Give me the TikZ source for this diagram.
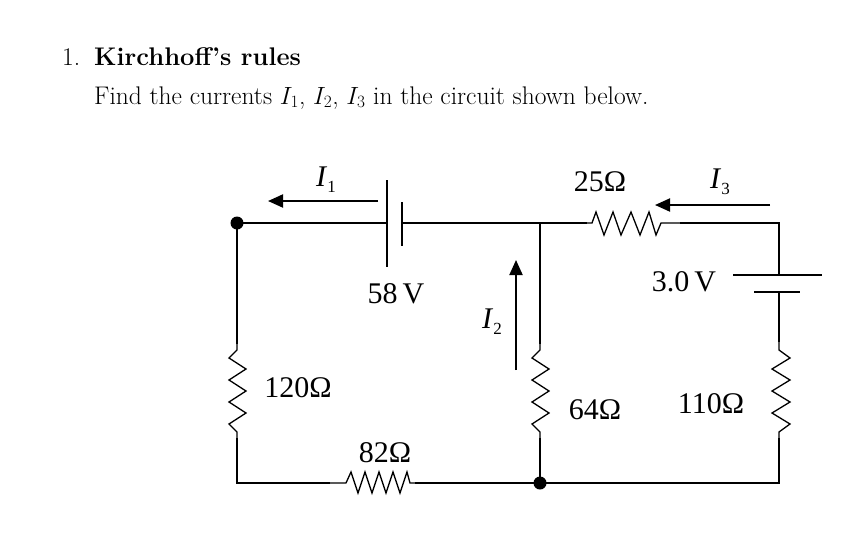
\documentclass[tikz,border=0pt]{standalone}
\usepackage{fontspec}
\newfontfamily\tnr{Liberation Serif}
\usetikzlibrary{arrows.meta}
\begin{document}
\begin{tikzpicture}[x=1pt,y=-1pt,
  wire/.style={line width=2pt},
  zz/.style={line width=1.3pt, line join=miter},
  cur/.style={line width=2pt,-{Triangle[length=15pt,width=13pt]}},
  lab/.style={font=\tnr\fontsize{30}{32}\selectfont, inner sep=0pt},
  txt/.style={font=\fontsize{25.5}{30}\selectfont, anchor=base west, inner sep=0pt}]
\useasboundingbox (0,0) rectangle (862,544);
\node[txt] (h1) at (62,65) {1.};
\node[txt] (h2) at (94,65) {\textbf{Kirchhoff's rules}};
\node[txt] (h3) at (94,104) {Find the currents $I_1$, $I_2$, $I_3$ in the circuit shown below.};
\coordinate (A) at (237,223);
\coordinate (B) at (540,223);
\coordinate (C) at (779,223);
\coordinate (D) at (779,483);
\coordinate (E) at (540,483);
\coordinate (F) at (237,483);
\draw[wire] (A) -- (387,223);
\draw[wire] (387,180) -- (387,267);
\draw[wire] (402,202) -- (402,246);
\draw[wire] (402,223) -- (B) -- (587,223);
% 25 ohm
\draw[zz] (587,223) -- (592,223) -- (596,212) -- (604,235) -- (613,212) -- (621,235) -- (631,212) -- (640,235) -- (649,212) -- (656,235) -- (661,223) -- (680,223);
\draw[wire] (680,223) -- (C) -- (779,275);
\draw[wire] (733,275) -- (822,275);
\draw[wire] (754,292) -- (800,292);
\draw[wire] (779,292) -- (779,342);
% 110 ohm
\draw[zz] (779,342) -- (779,350) -- (790,358) -- (772,369) -- (790,380) -- (772,391) -- (790,402) -- (772,413) -- (790,424) -- (779,432) -- (779,438);
\draw[wire] (779,438) -- (D) -- (E) -- (415,483);
% 82 ohm
\draw[zz] (415,483) -- (410,483) -- (407,472) -- (400,493) -- (393,472) -- (386,493) -- (379,472) -- (372,493) -- (365,472) -- (358,493) -- (351,472) -- (346,483) -- (330,483);
\draw[wire] (330,483) -- (F) -- (237,438);
% 120 ohm
\draw[zz] (237,438) -- (237,432) -- (229,424) -- (246,413) -- (229,402) -- (246,391) -- (229,380) -- (246,369) -- (229,358) -- (237,350) -- (237,344);
\draw[wire] (237,344) -- (A);
% middle branch
\draw[wire] (B) -- (540,344);
\draw[zz] (540,344) -- (540,350) -- (532,358) -- (549,369) -- (532,380) -- (549,391) -- (532,402) -- (549,413) -- (532,424) -- (540,432) -- (540,438);
\draw[wire] (540,438) -- (E);
\fill (A) circle (6.5);
\fill (E) circle (6.5);
\coordinate (i1s) at (378,201); \coordinate (i1e) at (268,201);
\draw[cur] (i1s) -- (i1e);
\coordinate (i2s) at (516,370); \coordinate (i2e) at (516,260);
\draw[cur] (i2s) -- (i2e);
\coordinate (i3s) at (770,205); \coordinate (i3e) at (655,205);
\draw[cur] (i3s) -- (i3e);
\node[lab] (l1) at (326,180) {\textit{I}\raisebox{-6pt}{\fontsize{17}{17}\selectfont 1}};
\node[lab] (l2) at (492,322) {\textit{I}\raisebox{-6pt}{\fontsize{17}{17}\selectfont 2}};
\node[lab] (l3) at (720,182) {\textit{I}\raisebox{-6pt}{\fontsize{17}{17}\selectfont 3}};
\node[lab] (v1) at (396,294) {58\,V};
\node[lab] (v2) at (684,282) {3.0\,V};
\node[lab] (r25) at (600,182) {25Ω};
\node[lab] (r120) at (298,388) {120Ω};
\node[lab] (r64) at (595,410) {64Ω};
\node[lab] (r110) at (711,404) {110Ω};
\node[lab] (r82) at (385,453) {82Ω};
\end{tikzpicture}
\end{document}
